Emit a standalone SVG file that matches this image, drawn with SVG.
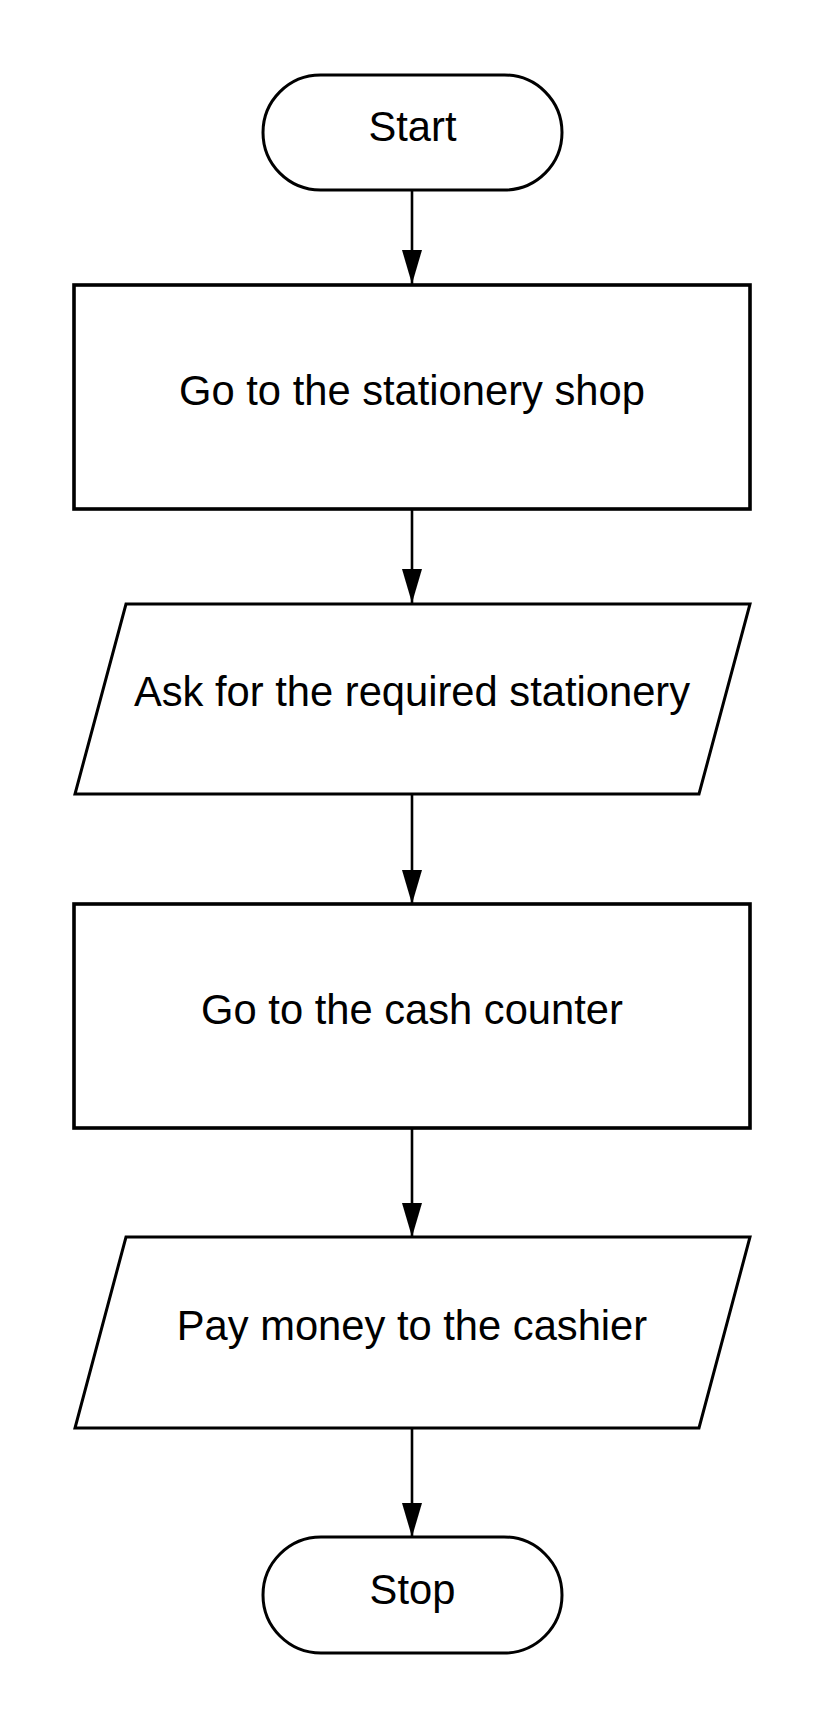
<svg xmlns="http://www.w3.org/2000/svg" width="825" height="1729" viewBox="0 0 825 1729">
<style>
  .term { fill: #ffffff; stroke: #000000; stroke-width: 3; }
  .proc { fill: #ffffff; stroke: #000000; stroke-width: 3.6; }
  .io { fill: #ffffff; stroke: #000000; stroke-width: 3; stroke-linejoin: miter; }
  .lbl { font-family: "Liberation Sans", Arial, sans-serif; font-size: 41.7px; fill: #000000; text-anchor: middle; }
  .conn { stroke: #000000; stroke-width: 2.6; fill: none; }
</style>
<defs>
  <marker id="arrow" markerUnits="userSpaceOnUse" markerWidth="36" markerHeight="22" refX="34" refY="10" orient="auto" viewBox="0 0 36 22">
    <path d="M0,0 L34,10 L0,20 Z" fill="#000000"/>
  </marker>
</defs>
<rect width="825" height="1729" fill="#ffffff"/>
<g id="connectors">
  <line class="conn" x1="412" y1="190" x2="412" y2="284" marker-end="url(#arrow)"/>
  <line class="conn" x1="412" y1="509" x2="412" y2="603" marker-end="url(#arrow)"/>
  <line class="conn" x1="412" y1="794" x2="412" y2="904" marker-end="url(#arrow)"/>
  <line class="conn" x1="412" y1="1128" x2="412" y2="1237" marker-end="url(#arrow)"/>
  <line class="conn" x1="412" y1="1428" x2="412" y2="1537" marker-end="url(#arrow)"/>
</g>
<g id="start">
  <rect class="term" x="263" y="75" width="299" height="115" rx="57.5" ry="57.5"/>
  <text class="lbl" x="412.5" y="141">Start</text>
</g>
<g id="go-shop">
  <rect class="proc" x="74" y="285" width="676" height="224"/>
  <text class="lbl" x="412" y="405">Go to the stationery shop</text>
</g>
<g id="ask">
  <polygon class="io" points="126,604 750,604 699,794 75,794"/>
  <text class="lbl" x="412" y="706">Ask for the required stationery</text>
</g>
<g id="go-counter">
  <rect class="proc" x="74" y="904" width="676" height="224"/>
  <text class="lbl" x="412" y="1024">Go to the cash counter</text>
</g>
<g id="pay">
  <polygon class="io" points="126,1237 750,1237 699,1428 75,1428"/>
  <text class="lbl" x="412" y="1340">Pay money to the cashier</text>
</g>
<g id="stop">
  <rect class="term" x="263" y="1537" width="299" height="116" rx="58" ry="58"/>
  <text class="lbl" x="412.5" y="1604">Stop</text>
</g>
</svg>
